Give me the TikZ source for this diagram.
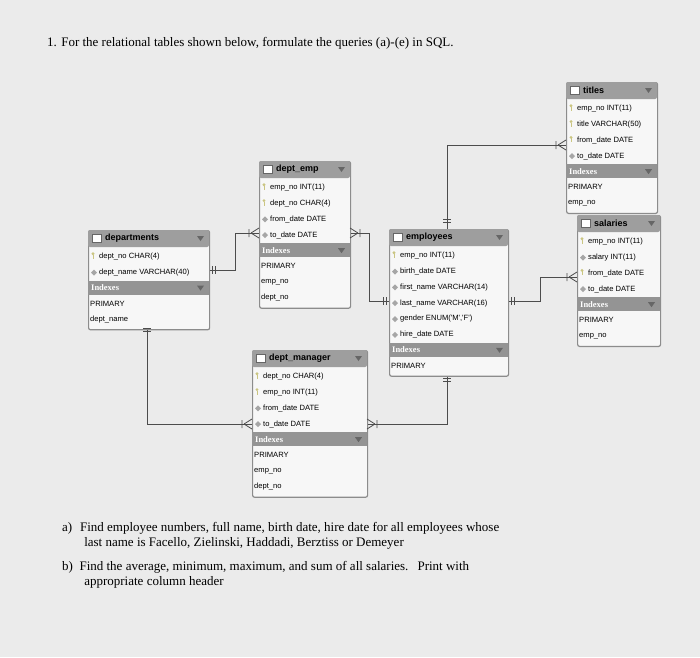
\documentclass[tikz,border=0pt]{standalone}
\usepackage{fontspec}
\setmainfont{Liberation Serif}
\newfontfamily\tfont{Liberation Sans}
\begin{document}
\begin{tikzpicture}[x=1pt,y=-1pt,
  tline/.style={draw=black!70,line width=0.8pt},
  rowtxt/.style={anchor=west,font=\tfont\fontsize{7.6}{9}\selectfont,inner sep=0pt},
  ttl/.style={anchor=west,font=\tfont\bfseries\fontsize{9}{10}\selectfont,inner sep=0pt},
  idx/.style={anchor=west,font=\fontsize{8.5}{9}\selectfont\bfseries,text=white,inner sep=0pt},
  qtext/.style={anchor=north west,font=\fontsize{13}{15}\selectfont,inner sep=0pt,align=left}]
\fill[black!8] (0,0) rectangle (700,657);
\useasboundingbox (0,0) rectangle (700,657);
% table macro: id, x, ytop, width, title, fields, indexes
\newcommand\erTable[7]{%
  \begin{scope}
  \pgfmathsetmacro\xl{#2}\pgfmathsetmacro\yt{#3}\pgfmathsetmacro\xr{#2+#4}
  \def\nf{0}\foreach \k/\t [count=\i] in {#6}{\xdef\nf{\i}}
  \def\ni{0}\foreach \t [count=\i] in {#7}{\xdef\ni{\i}}
  \pgfmathsetmacro\yi{\yt+19+\nf*15.8}
  \pgfmathsetmacro\yb{\yi+14+\ni*15.8+3}
  \node[draw=black!45,fill=black!3,line width=1.2pt,rounded corners=2pt,inner sep=0pt,minimum width=#4pt,minimum height={(\yb-\yt)*1pt},anchor=north west] (#1) at (\xl,\yt) {};
  \fill[black!38,rounded corners=2pt] (\xl,\yt) rectangle (\xr,\yt+17);
  \draw[black!60,fill=white] (\xl+4,\yt+4) rectangle (\xl+13,\yt+12);
  \node[ttl] at (\xl+17,\yt+8.5) {#5};
  \fill[black!60] (\xr-12,\yt+6) -- (\xr-5,\yt+6) -- (\xr-8.5,\yt+11) -- cycle;
  \foreach \k/\t [count=\i] in {#6}{
    \pgfmathsetmacro\yy{\yt+17+\i*15.8-6}
    \ifnum\k=1
      \fill[yellow!60!black!60] (\xl+5,\yy-3) circle (1.6pt);
      \draw[yellow!60!black!60,line width=0.8pt] (\xl+5,\yy-2) -- (\xl+5,\yy+2);
    \else
      \fill[black!35] (\xl+3,\yy) -- (\xl+6,\yy-3) -- (\xl+9,\yy) -- (\xl+6,\yy+3) -- cycle;
    \fi
    \node[rowtxt] at (\xl+11,\yy) {\t};
  }
  \fill[black!42] (\xl,\yi) rectangle (\xr,\yi+14);
  \node[idx] at (\xl+3,\yi+7) {Indexes};
  \fill[black!60] (\xr-12,\yi+5) -- (\xr-5,\yi+5) -- (\xr-8.5,\yi+10) -- cycle;
  \foreach \t [count=\i] in {#7}{
    \node[rowtxt] at (\xl+2,\yi+14+\i*15.8-7) {\t};
  }
  \end{scope}}
\erTable{titles}{566}{82}{91}{titles}{1/emp\_no INT(11),1/title VARCHAR(50),1/from\_date DATE,0/to\_date DATE}{PRIMARY,emp\_no}
\erTable{sal}{577}{215}{83}{salaries}{1/emp\_no INT(11),0/salary INT(11),1/from\_date DATE,0/to\_date DATE}{PRIMARY,emp\_no}
\erTable{de}{259}{161}{91}{dept\_emp}{1/emp\_no INT(11),1/dept\_no CHAR(4),0/from\_date DATE,0/to\_date DATE}{PRIMARY,emp\_no,dept\_no}
\erTable{dep}{88}{230}{121}{departments}{1/dept\_no CHAR(4),0/dept\_name VARCHAR(40)}{PRIMARY,dept\_name}
\erTable{emp}{389}{229}{119}{employees}{1/emp\_no INT(11),0/birth\_date DATE,0/first\_name VARCHAR(14),0/last\_name VARCHAR(16),0/{gender ENUM('M','F')},0/hire\_date DATE}{PRIMARY}
\erTable{dm}{252}{350}{115}{dept\_manager}{1/dept\_no CHAR(4),1/emp\_no INT(11),0/from\_date DATE,0/to\_date DATE}{PRIMARY,emp\_no,dept\_no}
% connectors
\coordinate (c1) at (235,270);\coordinate (c2) at (369,233);
\coordinate (c3) at (447,145);\coordinate (c4) at (540,277);
\coordinate (c5) at (147,424);\coordinate (c6) at (447,424);
\draw[tline] (dep.east |- c1) -| (c1) |- (de.west |- c2);
\draw[tline] (de.east |- c2) -| (c2) |- (emp.west |- 0,301);
\draw[tline] (emp.north -| c3) |- (titles.west |- c3);
\draw[tline] (emp.east |- 0,301) -| (c4) |- (sal.west |- c4);
\draw[tline] (dep.south -| c5) |- (dm.west |- c6);
\draw[tline] (emp.south -| c6) |- (dm.east |- c6);
% one-marks
\foreach \p/\q in {212/270,215/270,386/301,383/301,511/301,514/301}{\draw[tline] (\p,\q-4) -- (\p,\q+4);}
\foreach \p/\q in {147/328,147/331,447/378,447/381,447/222,447/219}{\draw[tline] (\p-4,\q) -- (\p+4,\q);}
% crow feet entering from left
\foreach \x/\y in {259/233,566/145,577/277,252/424}{
  \draw[tline] (\x-8,\y) -- (\x,\y-5) (\x-8,\y) -- (\x,\y+5) (\x-10,\y-4) -- (\x-10,\y+4);}
% crow feet entering from right
\foreach \x/\y in {350/233,367/424}{
  \draw[tline] (\x+8,\y) -- (\x,\y-5) (\x+8,\y) -- (\x,\y+5) (\x+10,\y-4) -- (\x+10,\y+4);}
% text
\node[qtext] (q1) at (47,37) {1. For the relational tables shown below, formulate the queries (a)-(e) in SQL.};
\node[qtext] (qa) at (62,522) {a)\hspace{0.6em}Find employee numbers, full name, birth date, hire date for all employees whose\\\hspace{1.7em}last name is Facello, Zielinski, Haddadi, Berztiss or Demeyer};
\node[qtext] (qb) at (62,561) {b)\hspace{0.5em}Find the average, minimum, maximum, and sum of all salaries.\hspace{0.7em}Print with\\\hspace{1.7em}appropriate column header};
\end{tikzpicture}
\end{document}
